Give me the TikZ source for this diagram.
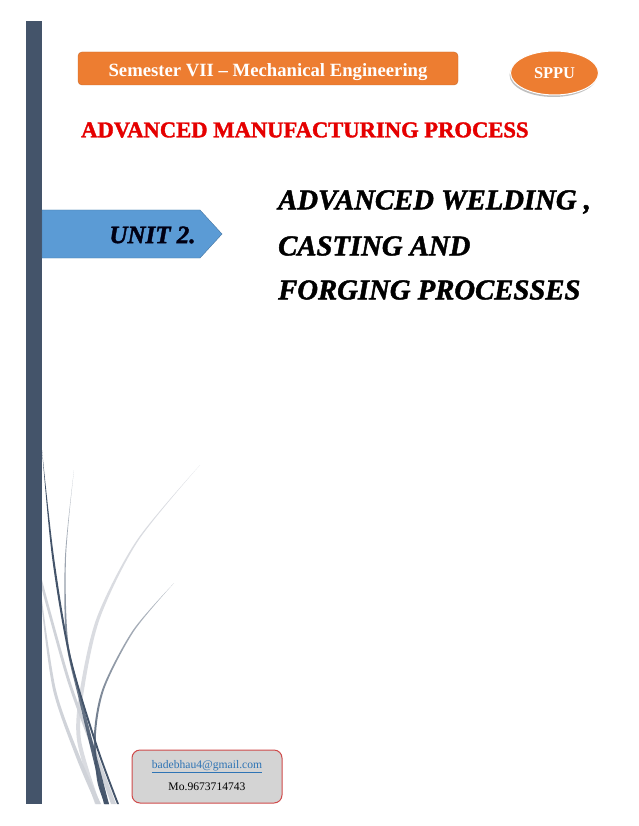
\documentclass[tikz,border=0pt]{standalone}
\usepackage{fontspec}
\setmainfont{Liberation Serif}
\usetikzlibrary{shadows,fadings,shapes.geometric}
\definecolor{barblue}{HTML}{44546A}
\definecolor{boxorange}{HTML}{ED7D31}
\definecolor{arrowblue}{HTML}{5B9BD5}
\definecolor{leafgray}{HTML}{D0D3D9}
\definecolor{mailblue}{HTML}{2E74B5}
\definecolor{boxred}{HTML}{CF4A4A}
\tikzfading[name=leaffade,top color=transparent!65,bottom color=transparent!0]
\newcommand{\heavy}{\bfseries\addfontfeature{FakeBold=1.6}}
\tikzset{
  headline/.style={anchor=west,inner sep=0pt,font=\fontsize{28.7}{33}\selectfont\itshape\heavy},
  contact/.style={anchor=base,inner sep=0pt,font=\fontsize{11.6}{14}\selectfont}
}
\begin{document}
\begin{tikzpicture}[x=1pt,y=-1pt]
\useasboundingbox (0,0) rectangle (638,826);
\fill[barblue] (26,21) rectangle (42,804);
% leaves
\begin{scope}
\clip (42,430) rectangle (300,804);
\fill[leafgray!80] plot[smooth] coordinates {(200,465) (137,540) (97,617) (80,690) (77,740) (95,804)} -- plot[smooth] coordinates {(100,804) (81,740) (84,690) (100,618) (138,541) (200,465)} -- cycle;
\fill[leafgray] plot[smooth] coordinates {(42,590) (67,680) (92,750) (111,804)} -- plot[smooth] coordinates {(116,804) (96,750) (70,680) (42,580)} -- cycle;
\fill[leafgray] plot[smooth] coordinates {(42,610) (53,690) (76,757) (96,804)} -- plot[smooth] coordinates {(101,804) (80,757) (56,690) (42,600)} -- cycle;
\fill[barblue,path fading=leaffade] plot[smooth] coordinates {(74,470) (65,557) (66,640) (79,700) (104,804)} -- plot[smooth] coordinates {(109,804) (82,700) (68,640) (66,557) (74,470)} -- cycle;
\fill[barblue] plot[smooth] coordinates {(42,450) (52,557) (69,657) (96,747) (117,804)} -- plot[smooth] coordinates {(119,804) (98,747) (71,657) (54,557) (42,450)} -- cycle;
\fill[barblue,path fading=leaffade] plot[smooth] coordinates {(174,583) (133,630) (103,687) (94,733) (97,780) (105,804)} -- plot[smooth] coordinates {(109,804) (99,780) (96,733) (105,687) (134,631) (174,583)} -- cycle;
\end{scope}
\node (semester)[rectangle,rounded corners=4pt,draw=boxorange!85!black,fill=boxorange,text=white,minimum width=380pt,minimum height=33pt,text height=16pt,text depth=0pt,font=\fontsize{18.7}{22}\selectfont\bfseries] at (268,68.5) {Semester VII -- Mechanical Engineering};
\node (sppu)[ellipse,draw=white,line width=1pt,fill=boxorange,text=white,minimum width=88pt,minimum height=44pt,inner sep=0pt,drop shadow={shadow xshift=-1pt,shadow yshift=-2pt},font=\fontsize{16.4}{19}\selectfont\bfseries] at (554.5,73) {SPPU};
\node (subject)[anchor=west,inner sep=0pt,text=red!90!black,font=\fontsize{22.6}{27}\selectfont\heavy] at (81,130) {ADVANCED MANUFACTURING PROCESS};
\draw[draw=arrowblue!75!black,fill=arrowblue] (42,210) -- (200,210) -- (222,234) -- (200,258) -- (42,258) -- cycle;
\node (unit)[inner sep=0pt,text=black!92!blue,font=\fontsize{25}{30}\selectfont\itshape\heavy] at (152.5,235) {UNIT 2.};
\foreach \name/\y/\line in {welding/202/{ADVANCED WELDING ,},casting/246/{CASTING AND},forging/290/{FORGING PROCESSES}}
\node (\name)[headline] at (278,\y) {\line};
\node (contact)[rectangle,rounded corners=8pt,draw=boxred,line width=1pt,fill=black!17,minimum width=150pt,minimum height=53pt] at (207,776.5) {};
\node (mail)[contact,text=mailblue] at (207,768) {\underline{badebhau4@gmail.com}};
\node (phone)[contact] at (207,790) {Mo.9673714743};
\end{tikzpicture}
\end{document}
